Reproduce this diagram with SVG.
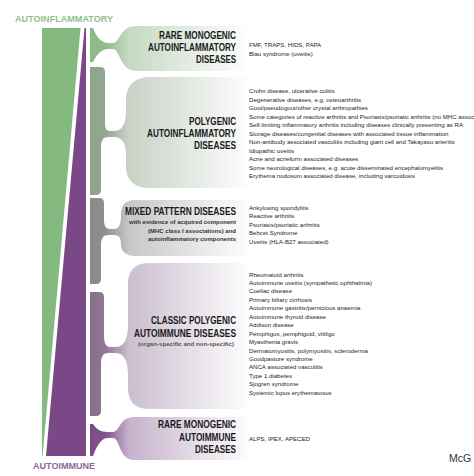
<svg xmlns="http://www.w3.org/2000/svg" width="474" height="476" viewBox="0 0 474 476">
<defs>
<style>
.t{font-family:"Liberation Sans",Arial,sans-serif;font-weight:bold;font-size:10px;fill:#1a1a1a}
.s{font-family:"Liberation Sans",Arial,sans-serif;font-weight:bold;font-size:5.8px;fill:#333}
.l{font-family:"Liberation Sans",Arial,sans-serif;font-size:6.1px;fill:#262626}
.lab{font-family:"Liberation Sans",Arial,sans-serif;font-weight:bold;font-size:9.5px}
</style>
<linearGradient id="g1" gradientUnits="userSpaceOnUse" x1="90" y1="0" x2="252" y2="0">
<stop offset="0" stop-color="#8cba89"/><stop offset="0.1" stop-color="#90bc8d"/><stop offset="0.24" stop-color="#c6dac4"/><stop offset="0.6" stop-color="#e2ebe1"/><stop offset="1" stop-color="#ffffff"/>
</linearGradient>
<linearGradient id="g2" gradientUnits="userSpaceOnUse" x1="90" y1="0" x2="252" y2="0">
<stop offset="0" stop-color="#8da38b"/><stop offset="0.1" stop-color="#93a891"/><stop offset="0.24" stop-color="#c9d2c7"/><stop offset="0.6" stop-color="#e2e7e1"/><stop offset="1" stop-color="#ffffff"/>
</linearGradient>
<linearGradient id="g3" gradientUnits="userSpaceOnUse" x1="90" y1="0" x2="252" y2="0">
<stop offset="0" stop-color="#8a8a8a"/><stop offset="0.1" stop-color="#909090"/><stop offset="0.24" stop-color="#c7c7c7"/><stop offset="0.6" stop-color="#e2e2e2"/><stop offset="1" stop-color="#ffffff"/>
</linearGradient>
<linearGradient id="g4" gradientUnits="userSpaceOnUse" x1="90" y1="0" x2="252" y2="0">
<stop offset="0" stop-color="#8a6e8e"/><stop offset="0.1" stop-color="#917794"/><stop offset="0.24" stop-color="#cbbfce"/><stop offset="0.6" stop-color="#e3dde5"/><stop offset="1" stop-color="#ffffff"/>
</linearGradient>
<linearGradient id="g5" gradientUnits="userSpaceOnUse" x1="90" y1="0" x2="252" y2="0">
<stop offset="0" stop-color="#7b4b87"/><stop offset="0.1" stop-color="#83568e"/><stop offset="0.24" stop-color="#c6b2cc"/><stop offset="0.6" stop-color="#e1d7e4"/><stop offset="1" stop-color="#ffffff"/>
</linearGradient>
</defs>
<rect width="474" height="476" fill="#ffffff"/>

<g id="axis">
<text class="lab" x="15" y="22" fill="#8fc28a" textLength="98" lengthAdjust="spacingAndGlyphs">AUTOINFLAMMATORY</text>
<polygon points="42,28 80.5,28 42.6,456 42,456" fill="#84b97f"/>
<polygon points="84.5,28 86,28 86,456 46,456" fill="#7a4886"/>
<text class="lab" x="33" y="469" fill="#8a6b97" textLength="62" lengthAdjust="spacingAndGlyphs">AUTOIMMUNE</text>
</g>

<g id="connectors">
<path d="M90,28 L93,28 C96,36 101,43 108,43 L113,43 L113,49 L108,49 C101,49 96,56 93,62 L90,62 Z" fill="url(#g1)"/>
<path d="M90,67 L100,67 Q105,67 105,72 L105,122 C105,128 106,131 110,131 L114,131 L114,137 L108,137 C103,137 101,141 101,147 L101,190 Q101,195 96,195 L90,195 Z" fill="url(#g2)"/>
<path d="M90,198 L99,198 Q104,198 104,203 L104,220 C104,226 106,229 110,229 L114,229 L114,235 L108,235 C103,235 101,239 101,245 L101,279 Q101,284 96,284 L90,284 Z" fill="url(#g3)"/>
<path d="M90,292 L99,292 Q104,292 104,297 L104,336 C104,343 106,347 110,347 L115,347 L115,353 L108,353 C103,353 101,357 101,363 L101,411 Q101,416 96,416 L90,416 Z" fill="url(#g4)"/>
<path d="M90,424 L93,424 C96,429 101,432 107,432 L113,432 L113,438 L107,438 C101,438 96,448 93,456 L90,456 Z" fill="url(#g5)"/>
</g>

<g id="rare-monogenic-autoinflammatory">
<path d="M111,43 L113,43 C120,43 120,26 136,26 L244,26 Q250,26 250,32 L250,65 Q250,71 244,71 L136,71 C120,71 120,49 113,49 L111,49 Z" fill="url(#g1)"/>
<text class="t" x="236" y="38.5" text-anchor="end" textLength="77" lengthAdjust="spacingAndGlyphs">RARE MONOGENIC</text>
<text class="t" x="236" y="51" text-anchor="end" textLength="88" lengthAdjust="spacingAndGlyphs">AUTOINFLAMMATORY</text>
<text class="t" x="236" y="63" text-anchor="end" textLength="40" lengthAdjust="spacingAndGlyphs">DISEASES</text>
<text class="l" x="249" y="47">FMF, TRAPS, HIDS, PAPA</text>
<text class="l" x="249" y="56">Blau syndrome (uveitis)</text>
</g>

<g id="polygenic-autoinflammatory">
<path d="M112,131 L114,131 C122,131 126,124 126,112 L126,100 C126,86 134,77 150,77 L244,77 Q250,77 250,83 L250,182 Q250,188 244,188 L150,188 C134,188 126,180 126,166 L126,155 C126,143 122,137 114,137 L112,137 Z" fill="url(#g2)"/>
<text class="t" x="236" y="125" text-anchor="end" textLength="47" lengthAdjust="spacingAndGlyphs">POLYGENIC</text>
<text class="t" x="236" y="137" text-anchor="end" textLength="89" lengthAdjust="spacingAndGlyphs">AUTOINFLAMMATORY</text>
<text class="t" x="236" y="149" text-anchor="end" textLength="42" lengthAdjust="spacingAndGlyphs">DISEASES</text>
<text class="l" x="249" y="93">Crohn disease, ulcerative colitis</text>
<text class="l" x="249" y="101.5">Degenerative diseases, e.g. osteoarthritis</text>
<text class="l" x="249" y="110">Gout/pseudogout/other crystal arthropathies</text>
<text class="l" x="249" y="118.5">Some categories of reactive arthritis and Psoriasis/psoriatic arthritis (no MHC associ</text>
<text class="l" x="249" y="127">Self-limiting inflammatory arthritis including diseases clinically presenting as RA</text>
<text class="l" x="249" y="135.5">Storage diseases/congenital diseases with associated tissue inflammation</text>
<text class="l" x="249" y="144">Non-antibody associated vasculitis including giant cell and Takayasu arteritis</text>
<text class="l" x="249" y="152.5">Idiopathic uveitis</text>
<text class="l" x="249" y="161">Acne and acneform associated diseases</text>
<text class="l" x="249" y="169.5">Some neurological diseases, e.g. acute disseminated encephalomyelitis</text>
<text class="l" x="249" y="178">Erythema nodosum associated disease, including sarcoidosis</text>
</g>

<g id="mixed-pattern">
<path d="M112,229 L114,229 C120,229 121,222 121,215 C121,205 126,200 135,200 L244,200 Q250,200 250,206 L250,250 Q250,256 244,256 L135,256 C126,256 121,251 121,245 C121,239 120,235 114,235 L112,235 Z" fill="url(#g3)"/>
<text class="t" x="236" y="215" text-anchor="end" textLength="111" lengthAdjust="spacingAndGlyphs">MIXED PATTERN DISEASES</text>
<text class="s" x="236" y="224" text-anchor="end" textLength="107" lengthAdjust="spacingAndGlyphs">with evidence of acquired component</text>
<text class="s" x="236" y="232.5" text-anchor="end" textLength="88" lengthAdjust="spacingAndGlyphs">(MHC class I associations) and</text>
<text class="s" x="236" y="241" text-anchor="end" textLength="88" lengthAdjust="spacingAndGlyphs">autoinflammatory components</text>
<text class="l" x="249" y="209.5">Ankylosing spondylitis</text>
<text class="l" x="249" y="218">Reactive arthritis</text>
<text class="l" x="249" y="226.5">Psoriasis/psoriatic arthritis</text>
<text class="l" x="249" y="235">Behcet Syndrome</text>
<text class="l" x="249" y="243.5">Uveitis (HLA-B27 associated)</text>
</g>

<g id="classic-polygenic-autoimmune">
<path d="M113,347 L115,347 C124,347 128,340 128,325 L128,285 C128,270 135,263 150,263 L244,263 Q250,263 250,269 L250,403 Q250,409 244,409 L150,409 C135,409 128,402 128,387 L128,375 C128,360 124,353 115,353 L113,353 Z" fill="url(#g4)"/>
<text class="t" x="236" y="324" text-anchor="end" textLength="85" lengthAdjust="spacingAndGlyphs">CLASSIC POLYGENIC</text>
<text class="t" x="236" y="337" text-anchor="end" textLength="102" lengthAdjust="spacingAndGlyphs">AUTOIMMUNE DISEASES</text>
<text class="s" x="234" y="345.5" text-anchor="end" textLength="96" lengthAdjust="spacingAndGlyphs" style="fill:#555">(organ-specific and non-specific)</text>
<text class="l" x="249" y="276.5">Rheumatoid arthritis</text>
<text class="l" x="249" y="285">Autoimmune uveitis (sympathetic ophthalmia)</text>
<text class="l" x="249" y="293.4">Coeliac disease</text>
<text class="l" x="249" y="301.8">Primary biliary cirrhosis</text>
<text class="l" x="249" y="310.3">Autoimmune gastritis/pernicious anaemia</text>
<text class="l" x="249" y="318.7">Autoimmune thyroid disease</text>
<text class="l" x="249" y="327.2">Addison disease</text>
<text class="l" x="249" y="335.6">Pemphigus, pemphigoid, vitiligo</text>
<text class="l" x="249" y="344.1">Myasthenia gravis</text>
<text class="l" x="249" y="352.5">Dermatomyositis, polymyositis, scleroderma</text>
<text class="l" x="249" y="361">Goodpasture syndrome</text>
<text class="l" x="249" y="369.4">ANCA associated vasculitis</text>
<text class="l" x="249" y="377.9">Type 1 diabetes</text>
<text class="l" x="249" y="386.3">Sjogren syndrome</text>
<text class="l" x="249" y="394.8">Systemic lupus erythematosus</text>
</g>

<g id="rare-monogenic-autoimmune">
<path d="M111,432 L113,432 C120,432 119,417 134,417 L244,417 Q250,417 250,423 L250,454 Q250,460 244,460 L134,460 C119,460 120,438 113,438 L111,438 Z" fill="url(#g5)"/>
<text class="t" x="236" y="428" text-anchor="end" textLength="78" lengthAdjust="spacingAndGlyphs">RARE MONOGENIC</text>
<text class="t" x="236" y="441" text-anchor="end" textLength="57" lengthAdjust="spacingAndGlyphs">AUTOIMMUNE</text>
<text class="t" x="236" y="453" text-anchor="end" textLength="41" lengthAdjust="spacingAndGlyphs">DISEASES</text>
<text class="l" x="249" y="440.5">ALPS, IPEX, APECED</text>
</g>

<g id="credit">
<text x="449" y="462" font-family="'Liberation Sans',Arial,sans-serif" font-size="10.5" fill="#333">McG</text>
</g>
</svg>
